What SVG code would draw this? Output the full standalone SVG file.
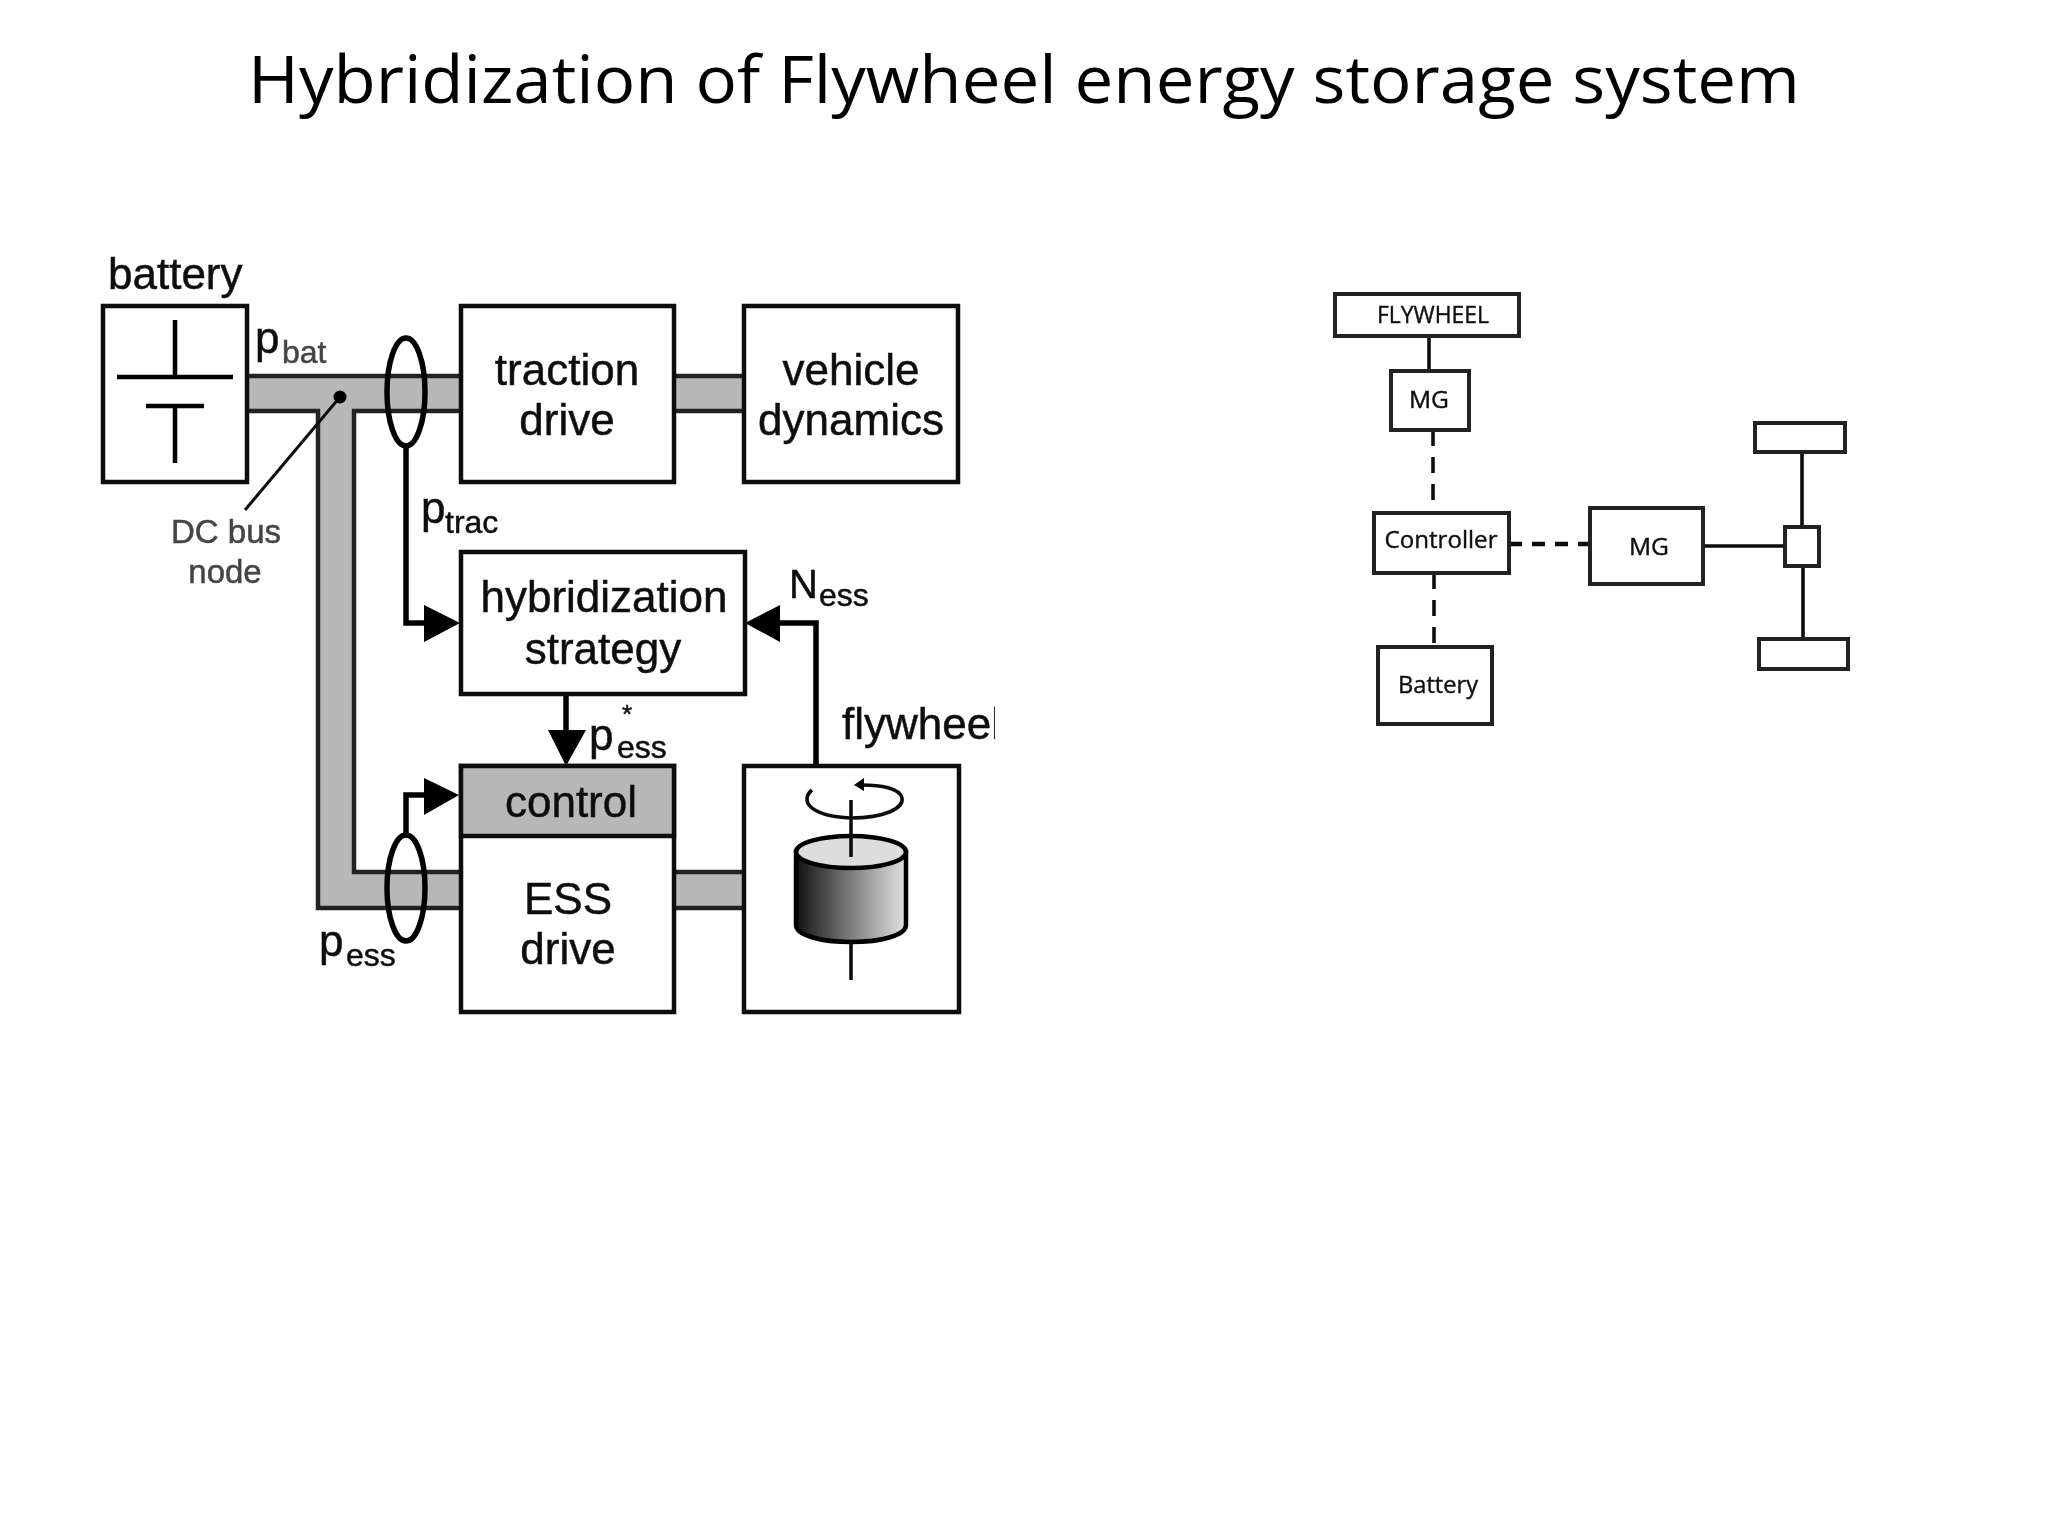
<svg xmlns="http://www.w3.org/2000/svg" width="2048" height="1536" viewBox="0 0 2048 1536">
<style>
text{font-family:"Liberation Sans",Arial,sans-serif;fill:#111;stroke:#111;stroke-width:0.5}
.l{font-size:44px;text-anchor:middle}
.s{font-size:32px}
.p{font-size:44px}
.c{font-size:33px;text-anchor:middle;fill:#444;stroke:#444}
.b{fill:#fff;stroke:#111;stroke-width:4.5}
.g{fill:#b8b8b8}
.w{fill:none;stroke:#000;stroke-width:5.5}
.y{fill:none;stroke:#000;stroke-width:4.5}
.bl{fill:none;stroke:#222;stroke-width:4.5}
.t{font-family:"Open Sans","Noto Sans",sans-serif;font-size:23px;fill:#111;stroke:#111;stroke-width:0.4;text-anchor:middle}
.r{fill:#fff;stroke:#222;stroke-width:4}
.k{fill:none;stroke:#111;stroke-width:3.6}
.d{fill:none;stroke:#111;stroke-width:3.6;stroke-dasharray:16 11}
.dh{fill:none;stroke:#111;stroke-width:4.5;stroke-dasharray:13 10}
</style>
<defs>
<linearGradient id="cyl" x1="0" x2="1" y1="0" y2="0"><stop offset="0" stop-color="#111"/><stop offset="0.55" stop-color="#888"/><stop offset="1" stop-color="#e2e2e2"/></linearGradient>
<filter id="soft" x="-5%" y="-5%" width="110%" height="110%"><feGaussianBlur stdDeviation="0.7"/></filter>
<clipPath id="cut"><rect x="830" y="690" width="165" height="70"/></clipPath>
</defs>
<rect width="2048" height="1536" fill="#fff"/>
<text id="title" x="1024" y="103" text-anchor="middle" textLength="1552" lengthAdjust="spacingAndGlyphs" style="font-family:'Open Sans','Noto Sans',sans-serif;font-size:66px;fill:#000;stroke:none">Hybridization of Flywheel energy storage system</text>
<g id="left-diagram" filter="url(#soft)">
<g id="connectors">
<path class="g" d="M247 376H461V411H354V872H461V908H318V411H247Z"/>
<rect class="g" x="674" y="376" width="70" height="35"/>
<rect class="g" x="674" y="872" width="70" height="36"/>
<path class="bl" d="M247 376H461M247 411H318V908H461M461 411H354V872H461M674 376H744M674 411H744M674 872H744M674 908H744"/>
<ellipse class="w" cx="406" cy="392" rx="19" ry="54"/>
<ellipse class="w" cx="406" cy="888" rx="19" ry="53"/>
<path class="w" d="M406 446V623H430M816 766V623H775M566 694V735M406 835V795H430"/>
<path d="M424 605L460 623L424 642Z" fill="#000"/>
<path d="M745 623L780 605V642Z" fill="#000"/>
<path d="M548 730H586L566 766Z" fill="#000"/>
<path d="M424 778L459 795L424 815Z" fill="#000"/>
<path d="M245 510L340 397" fill="none" stroke="#111" stroke-width="3"/>
<circle cx="340" cy="397" r="6.5" fill="#000"/>
</g>
<g id="battery">
<rect class="b" x="103" y="306" width="144" height="176"/>
<path class="y" d="M175 320V377M117 377H233M146 406H204M175 406V463"/>
<text class="p" x="108" y="289">battery</text>
<text class="p" x="255" y="353">p<tspan class="s" x="282" y="363" fill="#444" stroke="#444">bat</tspan></text>
</g>
<g id="traction-drive">
<rect class="b" x="461" y="306" width="213" height="176"/>
<text class="l" x="567" y="385">traction</text>
<text class="l" x="567" y="435">drive</text>
</g>
<g id="vehicle-dynamics">
<rect class="b" x="744" y="306" width="214" height="176"/>
<text class="l" x="851" y="385">vehicle</text>
<text class="l" x="851" y="435">dynamics</text>
</g>
<g id="dc-bus-label">
<text class="c" x="226" y="543">DC bus</text>
<text class="c" x="225" y="583">node</text>
</g>
<g id="ptrac-label"><text class="p" x="421" y="523">p<tspan class="s" x="445" y="533">trac</tspan></text></g>
<g id="hybridization-strategy">
<rect class="b" x="461" y="552" width="284" height="142"/>
<text class="l" x="604" y="612">hybridization</text>
<text class="l" x="603" y="664">strategy</text>
</g>
<g id="ness-label"><text style="font-size:40px" x="789" y="598">N<tspan class="s" x="819" y="606">ess</tspan></text></g>
<g id="pess-star-label">
<text style="font-size:26px" x="622" y="723">*</text>
<text class="p" x="589" y="750">p<tspan class="s" x="617" y="758">ess</tspan></text>
</g>
<g id="pess-label"><text class="p" x="319" y="956">p<tspan class="s" x="346" y="966">ess</tspan></text></g>
<g id="ess-drive">
<rect class="b" x="461" y="766" width="213" height="246"/>
<rect x="461" y="766" width="213" height="70" fill="#b8b8b8" stroke="#111" stroke-width="4.5"/>
<text class="l" x="571" y="817">control</text>
<text class="l" x="568" y="914">ESS</text>
<text class="l" x="568" y="964">drive</text>
</g>
<g id="flywheel">
<rect class="b" x="744" y="766" width="215" height="246"/>
<text class="p" x="842" y="739" clip-path="url(#cut)">flywheel</text>
<path d="M796 852V925C796 935 820 942 851 942S906 935 906 925V852Z" fill="url(#cyl)" stroke="#000" stroke-width="4.5"/>
<ellipse cx="851" cy="852" rx="55" ry="16" fill="#ddd" stroke="#000" stroke-width="4.5"/>
<path class="k" d="M851 800V857M851 942V980"/>
<path d="M812 790C800 800 808 816 851 818C885 818 904 808 902 798C900 788 880 785 862 785" fill="none" stroke="#111" stroke-width="3.6"/>
<path d="M854 785L864 778V791Z" fill="#000"/>
</g>
</g>
<g id="right-diagram" filter="url(#soft)">
<g id="right-connectors">
<path class="k" d="M1429 336V371M1703 546H1785M1802 452V527M1803 566V639"/>
<path class="d" d="M1433 430V513M1434 573V647"/>
<path class="dh" d="M1509 544H1590"/>
</g>
<g id="flywheel-box"><rect class="r" x="1335" y="294" width="184" height="42"/><text class="t" x="1433" y="323" textLength="112" lengthAdjust="spacingAndGlyphs">FLYWHEEL</text></g>
<g id="mg-1"><rect class="r" x="1391" y="371" width="78" height="59"/><text class="t" x="1429" y="408" textLength="40" lengthAdjust="spacingAndGlyphs">MG</text></g>
<g id="controller"><rect class="r" x="1374" y="513" width="135" height="60"/><text class="t" x="1441" y="548" textLength="113" lengthAdjust="spacingAndGlyphs">Controller</text></g>
<g id="mg-2"><rect class="r" x="1590" y="508" width="113" height="76"/><text class="t" x="1649" y="555" textLength="40" lengthAdjust="spacingAndGlyphs">MG</text></g>
<g id="battery-box"><rect class="r" x="1378" y="647" width="114" height="77"/><text class="t" x="1438" y="693" textLength="80" lengthAdjust="spacingAndGlyphs">Battery</text></g>
<g id="hub"><rect class="r" x="1785" y="527" width="34" height="39"/></g>
<g id="wheel-top"><rect class="r" x="1755" y="423" width="90" height="29"/></g>
<g id="wheel-bottom"><rect class="r" x="1759" y="639" width="89" height="30"/></g>
</g>
</svg>
